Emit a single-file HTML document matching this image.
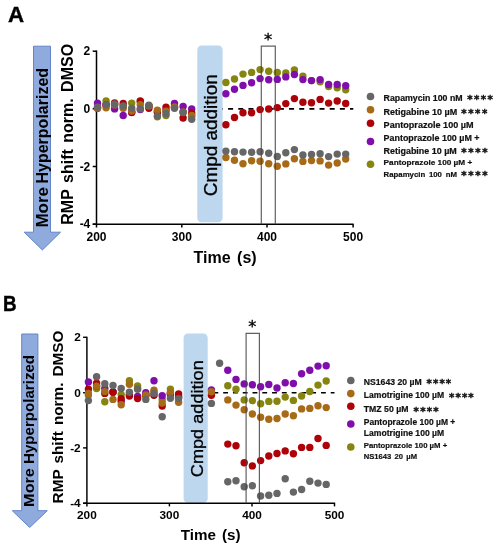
<!DOCTYPE html>
<html lang="en"><head><meta charset="utf-8"><title>RMP shift figure</title>
<style>html,body{margin:0;padding:0;background:#fff;}svg{display:block;}</style></head><body>
<svg width="497" height="550" viewBox="0 0 497 550">
<rect width="497" height="550" fill="#fff"/>
<path d="M33.5 46.2 H50.5 V232.2 H60.5 L42.4 250 L24.2 232.2 H33.5 Z" fill="#8faadc" stroke="#6485c7" stroke-width="1"/>
<text transform="translate(47.8 227.6) rotate(-90)" font-family="'Liberation Sans', sans-serif" font-weight="bold" font-size="16" textLength="40.7" lengthAdjust="spacingAndGlyphs" fill="#000">More</text>
<text transform="translate(47.8 183.5) rotate(-90)" font-family="'Liberation Sans', sans-serif" font-weight="bold" font-size="16" fill="#000">Hyperpolarized</text>
<text transform="translate(72.6 224.7) rotate(-90)" font-family="'Liberation Sans', sans-serif" font-weight="bold" font-size="16" style="word-spacing:2px" fill="#000">RMP shift norm. DMSO</text>
<line x1="217.94" y1="108.8" x2="353.3" y2="108.8" stroke="#000" stroke-width="1.7" stroke-dasharray="5 5.16"/>
<rect x="197.3" y="45.5" width="25.299999999999983" height="176.8" rx="4.3" fill="#bdd7ee"/>
<text transform="translate(216.6 196.2) rotate(-90)" font-family="'Liberation Sans', sans-serif" font-size="17.8" textLength="122" lengthAdjust="spacingAndGlyphs" fill="#000" stroke="#000" stroke-width="0.3">Cmpd addition</text>
<path d="M96.5 50.6 V227.39999999999998 M92.7 224.2 H353.70000000000005" stroke="#000" stroke-width="1.5" fill="none"/>
<line x1="92.7" y1="51.2" x2="96.5" y2="51.2" stroke="#000" stroke-width="1.5"/>
<line x1="92.7" y1="108.8" x2="96.5" y2="108.8" stroke="#000" stroke-width="1.5"/>
<line x1="92.7" y1="166.5" x2="96.5" y2="166.5" stroke="#000" stroke-width="1.5"/>
<line x1="92.7" y1="224.2" x2="96.5" y2="224.2" stroke="#000" stroke-width="1.5"/>
<line x1="181.8" y1="224.2" x2="181.8" y2="227.39999999999998" stroke="#000" stroke-width="1.5"/>
<line x1="267" y1="224.2" x2="267" y2="227.39999999999998" stroke="#000" stroke-width="1.5"/>
<line x1="353.1" y1="224.2" x2="353.1" y2="227.39999999999998" stroke="#000" stroke-width="1.5"/>
<circle cx="97.5" cy="107.5" r="3.7" fill="#868510"/>
<circle cx="106.1" cy="101" r="3.7" fill="#868510"/>
<circle cx="114.6" cy="105" r="3.7" fill="#868510"/>
<circle cx="123.2" cy="106" r="3.7" fill="#868510"/>
<circle cx="131.7" cy="103.1" r="3.7" fill="#868510"/>
<circle cx="140.3" cy="101" r="3.7" fill="#868510"/>
<circle cx="148.9" cy="106" r="3.7" fill="#868510"/>
<circle cx="157.4" cy="116.7" r="3.7" fill="#868510"/>
<circle cx="166.0" cy="115.5" r="3.7" fill="#868510"/>
<circle cx="174.5" cy="107" r="3.7" fill="#868510"/>
<circle cx="183.1" cy="112" r="3.7" fill="#868510"/>
<circle cx="191.7" cy="116" r="3.7" fill="#868510"/>
<circle cx="225.9" cy="82.5" r="3.7" fill="#868510"/>
<circle cx="234.5" cy="79" r="3.7" fill="#868510"/>
<circle cx="243.0" cy="74.1" r="3.7" fill="#868510"/>
<circle cx="251.6" cy="72.4" r="3.7" fill="#868510"/>
<circle cx="260.1" cy="69.6" r="3.7" fill="#868510"/>
<circle cx="268.7" cy="71.3" r="3.7" fill="#868510"/>
<circle cx="277.3" cy="72.4" r="3.7" fill="#868510"/>
<circle cx="285.8" cy="73" r="3.7" fill="#868510"/>
<circle cx="294.4" cy="70" r="3.7" fill="#868510"/>
<circle cx="302.9" cy="76.1" r="3.7" fill="#868510"/>
<circle cx="311.5" cy="80.6" r="3.7" fill="#868510"/>
<circle cx="320.1" cy="81.7" r="3.7" fill="#868510"/>
<circle cx="328.6" cy="86.6" r="3.7" fill="#868510"/>
<circle cx="337.2" cy="87.7" r="3.7" fill="#868510"/>
<circle cx="345.7" cy="89.8" r="3.7" fill="#868510"/>
<circle cx="97.5" cy="103.1" r="3.7" fill="#800eaa"/>
<circle cx="106.1" cy="105" r="3.7" fill="#800eaa"/>
<circle cx="114.6" cy="108.9" r="3.7" fill="#800eaa"/>
<circle cx="123.2" cy="115.5" r="3.7" fill="#800eaa"/>
<circle cx="131.7" cy="112.5" r="3.7" fill="#800eaa"/>
<circle cx="140.3" cy="109.5" r="3.7" fill="#800eaa"/>
<circle cx="148.9" cy="106" r="3.7" fill="#800eaa"/>
<circle cx="157.4" cy="112" r="3.7" fill="#800eaa"/>
<circle cx="166.0" cy="110" r="3.7" fill="#800eaa"/>
<circle cx="174.5" cy="103.5" r="3.7" fill="#800eaa"/>
<circle cx="183.1" cy="106.5" r="3.7" fill="#800eaa"/>
<circle cx="191.7" cy="108.9" r="3.7" fill="#800eaa"/>
<circle cx="225.9" cy="93.8" r="3.7" fill="#800eaa"/>
<circle cx="234.5" cy="89.3" r="3.7" fill="#800eaa"/>
<circle cx="243.0" cy="85.4" r="3.7" fill="#800eaa"/>
<circle cx="251.6" cy="82.8" r="3.7" fill="#800eaa"/>
<circle cx="260.1" cy="78.6" r="3.7" fill="#800eaa"/>
<circle cx="268.7" cy="79.7" r="3.7" fill="#800eaa"/>
<circle cx="277.3" cy="79.4" r="3.7" fill="#800eaa"/>
<circle cx="285.8" cy="76.9" r="3.7" fill="#800eaa"/>
<circle cx="294.4" cy="74.5" r="3.7" fill="#800eaa"/>
<circle cx="302.9" cy="79.6" r="3.7" fill="#800eaa"/>
<circle cx="311.5" cy="80.6" r="3.7" fill="#800eaa"/>
<circle cx="320.1" cy="79.6" r="3.7" fill="#800eaa"/>
<circle cx="328.6" cy="84.5" r="3.7" fill="#800eaa"/>
<circle cx="337.2" cy="84.5" r="3.7" fill="#800eaa"/>
<circle cx="345.7" cy="85.8" r="3.7" fill="#800eaa"/>
<circle cx="97.5" cy="108.3" r="3.7" fill="#ad0208"/>
<circle cx="106.1" cy="105" r="3.7" fill="#ad0208"/>
<circle cx="114.6" cy="103" r="3.7" fill="#ad0208"/>
<circle cx="123.2" cy="103.5" r="3.7" fill="#ad0208"/>
<circle cx="131.7" cy="112.3" r="3.7" fill="#ad0208"/>
<circle cx="140.3" cy="101.2" r="3.7" fill="#ad0208"/>
<circle cx="148.9" cy="108.3" r="3.7" fill="#ad0208"/>
<circle cx="157.4" cy="112" r="3.7" fill="#ad0208"/>
<circle cx="166.0" cy="107.1" r="3.7" fill="#ad0208"/>
<circle cx="174.5" cy="107" r="3.7" fill="#ad0208"/>
<circle cx="183.1" cy="118" r="3.7" fill="#ad0208"/>
<circle cx="191.7" cy="113.1" r="3.7" fill="#ad0208"/>
<circle cx="225.9" cy="124.8" r="3.7" fill="#ad0208"/>
<circle cx="234.5" cy="117.5" r="3.7" fill="#ad0208"/>
<circle cx="243.0" cy="112.8" r="3.7" fill="#ad0208"/>
<circle cx="251.6" cy="112.8" r="3.7" fill="#ad0208"/>
<circle cx="260.1" cy="109.6" r="3.7" fill="#ad0208"/>
<circle cx="268.7" cy="109" r="3.7" fill="#ad0208"/>
<circle cx="277.3" cy="107.6" r="3.7" fill="#ad0208"/>
<circle cx="285.8" cy="103.6" r="3.7" fill="#ad0208"/>
<circle cx="294.4" cy="98.6" r="3.7" fill="#ad0208"/>
<circle cx="302.9" cy="102.2" r="3.7" fill="#ad0208"/>
<circle cx="311.5" cy="102.7" r="3.7" fill="#ad0208"/>
<circle cx="320.1" cy="99.4" r="3.7" fill="#ad0208"/>
<circle cx="328.6" cy="103.1" r="3.7" fill="#ad0208"/>
<circle cx="337.2" cy="101" r="3.7" fill="#ad0208"/>
<circle cx="345.7" cy="103.5" r="3.7" fill="#ad0208"/>
<circle cx="97.5" cy="108" r="3.7" fill="#a76a17"/>
<circle cx="106.1" cy="107.7" r="3.7" fill="#a76a17"/>
<circle cx="114.6" cy="105" r="3.7" fill="#a76a17"/>
<circle cx="123.2" cy="108.3" r="3.7" fill="#a76a17"/>
<circle cx="131.7" cy="111" r="3.7" fill="#a76a17"/>
<circle cx="140.3" cy="104.7" r="3.7" fill="#a76a17"/>
<circle cx="148.9" cy="106" r="3.7" fill="#a76a17"/>
<circle cx="157.4" cy="110.1" r="3.7" fill="#a76a17"/>
<circle cx="166.0" cy="111.3" r="3.7" fill="#a76a17"/>
<circle cx="174.5" cy="107" r="3.7" fill="#a76a17"/>
<circle cx="183.1" cy="112" r="3.7" fill="#a76a17"/>
<circle cx="191.7" cy="115.5" r="3.7" fill="#a76a17"/>
<circle cx="225.9" cy="157.5" r="3.7" fill="#a76a17"/>
<circle cx="234.5" cy="160.3" r="3.7" fill="#a76a17"/>
<circle cx="243.0" cy="163.8" r="3.7" fill="#a76a17"/>
<circle cx="251.6" cy="160.7" r="3.7" fill="#a76a17"/>
<circle cx="260.1" cy="161.3" r="3.7" fill="#a76a17"/>
<circle cx="268.7" cy="163.8" r="3.7" fill="#a76a17"/>
<circle cx="277.3" cy="166.3" r="3.7" fill="#a76a17"/>
<circle cx="285.8" cy="163.9" r="3.7" fill="#a76a17"/>
<circle cx="294.4" cy="158.7" r="3.7" fill="#a76a17"/>
<circle cx="302.9" cy="161.4" r="3.7" fill="#a76a17"/>
<circle cx="311.5" cy="160.6" r="3.7" fill="#a76a17"/>
<circle cx="320.1" cy="160.9" r="3.7" fill="#a76a17"/>
<circle cx="328.6" cy="165.1" r="3.7" fill="#a76a17"/>
<circle cx="337.2" cy="163" r="3.7" fill="#a76a17"/>
<circle cx="345.7" cy="159" r="3.7" fill="#a76a17"/>
<circle cx="97.5" cy="107.1" r="3.7" fill="#666666"/>
<circle cx="106.1" cy="104.7" r="3.7" fill="#666666"/>
<circle cx="114.6" cy="104" r="3.7" fill="#666666"/>
<circle cx="123.2" cy="105.9" r="3.7" fill="#666666"/>
<circle cx="131.7" cy="108.3" r="3.7" fill="#666666"/>
<circle cx="140.3" cy="108.9" r="3.7" fill="#666666"/>
<circle cx="148.9" cy="105.3" r="3.7" fill="#666666"/>
<circle cx="157.4" cy="116.1" r="3.7" fill="#666666"/>
<circle cx="166.0" cy="113.7" r="3.7" fill="#666666"/>
<circle cx="174.5" cy="108.3" r="3.7" fill="#666666"/>
<circle cx="183.1" cy="112.5" r="3.7" fill="#666666"/>
<circle cx="191.7" cy="119.2" r="3.7" fill="#666666"/>
<circle cx="225.9" cy="151.1" r="3.7" fill="#666666"/>
<circle cx="234.5" cy="151.8" r="3.7" fill="#666666"/>
<circle cx="243.0" cy="152.1" r="3.7" fill="#666666"/>
<circle cx="251.6" cy="152.3" r="3.7" fill="#666666"/>
<circle cx="260.1" cy="151.8" r="3.7" fill="#666666"/>
<circle cx="268.7" cy="153.2" r="3.7" fill="#666666"/>
<circle cx="277.3" cy="156.5" r="3.7" fill="#666666"/>
<circle cx="285.8" cy="152.7" r="3.7" fill="#666666"/>
<circle cx="294.4" cy="149.6" r="3.7" fill="#666666"/>
<circle cx="302.9" cy="154.9" r="3.7" fill="#666666"/>
<circle cx="311.5" cy="154.5" r="3.7" fill="#666666"/>
<circle cx="320.1" cy="153.8" r="3.7" fill="#666666"/>
<circle cx="328.6" cy="156.6" r="3.7" fill="#666666"/>
<circle cx="337.2" cy="154.1" r="3.7" fill="#666666"/>
<circle cx="345.7" cy="154.1" r="3.7" fill="#666666"/>
<text x="90.3" y="55.2" text-anchor="end" font-family="'Liberation Sans', sans-serif" font-weight="bold" font-size="12">2</text>
<text x="90.3" y="112.8" text-anchor="end" font-family="'Liberation Sans', sans-serif" font-weight="bold" font-size="12">0</text>
<text x="90.3" y="170.5" text-anchor="end" font-family="'Liberation Sans', sans-serif" font-weight="bold" font-size="12">-2</text>
<text x="90.3" y="228.2" text-anchor="end" font-family="'Liberation Sans', sans-serif" font-weight="bold" font-size="12">-4</text>
<text x="96.5" y="241.3" text-anchor="middle" font-family="'Liberation Sans', sans-serif" font-weight="bold" font-size="12">200</text>
<text x="181.8" y="241.3" text-anchor="middle" font-family="'Liberation Sans', sans-serif" font-weight="bold" font-size="12">300</text>
<text x="267" y="241.3" text-anchor="middle" font-family="'Liberation Sans', sans-serif" font-weight="bold" font-size="12">400</text>
<text x="353.1" y="241.3" text-anchor="middle" font-family="'Liberation Sans', sans-serif" font-weight="bold" font-size="12">500</text>
<text x="193.6" y="262.8" font-family="'Liberation Sans', sans-serif" font-weight="bold" font-size="16" style="word-spacing:2px">Time (s)</text>
<path d="M261.3 224.2 V46.1 H275.3 V224.2" fill="none" stroke="#454545" stroke-opacity="0.85" stroke-width="1.2"/>
<text x="268" y="44.5" text-anchor="middle" font-family="'DejaVu Sans', sans-serif" font-size="16.5" stroke="#000" stroke-width="0.35">*</text>
<text x="7.9" y="22.3" font-family="'Liberation Sans', sans-serif" font-weight="bold" font-size="22.3" stroke="#000" stroke-width="0.4">A</text>
<circle cx="370.5" cy="96.5" r="3.8" fill="#666666"/>
<circle cx="370.5" cy="109.8" r="3.8" fill="#a76a17"/>
<circle cx="370.5" cy="123.3" r="3.8" fill="#ad0208"/>
<circle cx="370.5" cy="141.5" r="3.8" fill="#800eaa"/>
<circle cx="370.5" cy="164.3" r="3.8" fill="#868510"/>
<text x="383.6" y="101.2" font-family="'Liberation Sans', sans-serif" font-weight="bold" font-size="8.5" textLength="79" lengthAdjust="spacingAndGlyphs" style="word-spacing:0px" fill="#111" stroke="#111" stroke-width="0.2">Rapamycin 100 nM</text>
<text x="467.2" y="102.7" font-family="'DejaVu Sans', sans-serif" font-weight="bold" font-size="10.2" textLength="25.6" lengthAdjust="spacing" fill="#111" stroke="#111" stroke-width="0.4">****</text>
<text x="383.6" y="115.1" font-family="'Liberation Sans', sans-serif" font-weight="bold" font-size="8.5" textLength="73.6" lengthAdjust="spacingAndGlyphs" style="word-spacing:0px" fill="#111" stroke="#111" stroke-width="0.2">Retigabine 10 µM</text>
<text x="461.2" y="116.6" font-family="'DejaVu Sans', sans-serif" font-weight="bold" font-size="10.2" textLength="26.2" lengthAdjust="spacing" fill="#111" stroke="#111" stroke-width="0.4">****</text>
<text x="383.6" y="128.2" font-family="'Liberation Sans', sans-serif" font-weight="bold" font-size="8.5" textLength="90" lengthAdjust="spacingAndGlyphs" style="word-spacing:0px" fill="#111" stroke="#111" stroke-width="0.2">Pantoprazole 100 µM</text>
<text x="383.6" y="141.2" font-family="'Liberation Sans', sans-serif" font-weight="bold" font-size="8.5" textLength="95.9" lengthAdjust="spacingAndGlyphs" style="word-spacing:0px" fill="#111" stroke="#111" stroke-width="0.2">Pantoprazole 100 µM +</text>
<text x="383.6" y="153.6" font-family="'Liberation Sans', sans-serif" font-weight="bold" font-size="8.5" textLength="73.2" lengthAdjust="spacingAndGlyphs" style="word-spacing:0px" fill="#111" stroke="#111" stroke-width="0.2">Retigabine 10 µM</text>
<text x="461.3" y="156.3" font-family="'DejaVu Sans', sans-serif" font-weight="bold" font-size="10.2" textLength="26.2" lengthAdjust="spacing" fill="#111" stroke="#111" stroke-width="0.4">****</text>
<text x="383.6" y="165.4" font-family="'Liberation Sans', sans-serif" font-weight="bold" font-size="8.0" textLength="88.7" lengthAdjust="spacingAndGlyphs" style="word-spacing:0px" fill="#111" stroke="#111" stroke-width="0.2">Pantoprazole 100 µM +</text>
<text x="383.6" y="176.5" font-family="'Liberation Sans', sans-serif" font-weight="bold" font-size="8.0" textLength="73.3" lengthAdjust="spacingAndGlyphs" style="word-spacing:1.6px" fill="#111" stroke="#111" stroke-width="0.2">Rapamycin 100 nM</text>
<text x="461.3" y="179.4" font-family="'DejaVu Sans', sans-serif" font-weight="bold" font-size="10.2" textLength="26.2" lengthAdjust="spacing" fill="#111" stroke="#111" stroke-width="0.4">****</text>
<path d="M21.7 334 H37.9 V510.7 H47.3 L29.7 527.5 L12.3 510.7 H21.7 Z" fill="#8faadc" stroke="#6485c7" stroke-width="1"/>
<text transform="translate(34.1 506.9) rotate(-90)" font-family="'Liberation Sans', sans-serif" font-weight="bold" font-size="15.3" textLength="38.8" lengthAdjust="spacingAndGlyphs" fill="#000">More</text>
<text transform="translate(34.1 464) rotate(-90)" font-family="'Liberation Sans', sans-serif" font-weight="bold" font-size="15.1" fill="#000">Hyperpolarized</text>
<text transform="translate(62.7 503.4) rotate(-90)" font-family="'Liberation Sans', sans-serif" font-weight="bold" font-size="15.3" style="word-spacing:1.9px" fill="#000">RMP shift norm. DMSO</text>
<line x1="213.4" y1="392.7" x2="334.5" y2="392.7" stroke="#000" stroke-width="1.65" stroke-dasharray="4.85 4.93"/>
<rect x="183.6" y="333.4" width="24.099999999999994" height="169.40000000000003" rx="4.3" fill="#bdd7ee"/>
<text transform="translate(202.5 477.2) rotate(-90)" font-family="'Liberation Sans', sans-serif" font-size="17.4" textLength="117" lengthAdjust="spacingAndGlyphs" fill="#000" stroke="#000" stroke-width="0.3">Cmpd addition</text>
<path d="M86.9 336.7 V506.4 M83.10000000000001 503.2 H335.1" stroke="#000" stroke-width="1.45" fill="none"/>
<line x1="83.10000000000001" y1="337.3" x2="86.9" y2="337.3" stroke="#000" stroke-width="1.45"/>
<line x1="83.10000000000001" y1="392.7" x2="86.9" y2="392.7" stroke="#000" stroke-width="1.45"/>
<line x1="83.10000000000001" y1="447.9" x2="86.9" y2="447.9" stroke="#000" stroke-width="1.45"/>
<line x1="83.10000000000001" y1="503.2" x2="86.9" y2="503.2" stroke="#000" stroke-width="1.45"/>
<line x1="169.4" y1="503.2" x2="169.4" y2="506.4" stroke="#000" stroke-width="1.45"/>
<line x1="252.0" y1="503.2" x2="252.0" y2="506.4" stroke="#000" stroke-width="1.45"/>
<line x1="334.5" y1="503.2" x2="334.5" y2="506.4" stroke="#000" stroke-width="1.45"/>
<circle cx="88.4" cy="395.2" r="3.7" fill="#868510"/>
<circle cx="96.6" cy="388.5" r="3.7" fill="#868510"/>
<circle cx="104.8" cy="401.8" r="3.7" fill="#868510"/>
<circle cx="113.0" cy="392" r="3.7" fill="#868510"/>
<circle cx="121.2" cy="394.6" r="3.7" fill="#868510"/>
<circle cx="129.4" cy="380.7" r="3.7" fill="#868510"/>
<circle cx="137.6" cy="386" r="3.7" fill="#868510"/>
<circle cx="145.8" cy="395" r="3.7" fill="#868510"/>
<circle cx="154.0" cy="392" r="3.7" fill="#868510"/>
<circle cx="162.2" cy="399.4" r="3.7" fill="#868510"/>
<circle cx="170.4" cy="389.1" r="3.7" fill="#868510"/>
<circle cx="178.6" cy="397" r="3.7" fill="#868510"/>
<circle cx="227.8" cy="385.8" r="3.7" fill="#868510"/>
<circle cx="236.0" cy="389.3" r="3.7" fill="#868510"/>
<circle cx="244.2" cy="399.9" r="3.7" fill="#868510"/>
<circle cx="252.4" cy="400.6" r="3.7" fill="#868510"/>
<circle cx="260.6" cy="403.7" r="3.7" fill="#868510"/>
<circle cx="268.8" cy="401.4" r="3.7" fill="#868510"/>
<circle cx="277.0" cy="401.2" r="3.7" fill="#868510"/>
<circle cx="285.2" cy="397.1" r="3.7" fill="#868510"/>
<circle cx="293.4" cy="400.4" r="3.7" fill="#868510"/>
<circle cx="301.6" cy="396" r="3.7" fill="#868510"/>
<circle cx="309.8" cy="391.5" r="3.7" fill="#868510"/>
<circle cx="318.0" cy="385.1" r="3.7" fill="#868510"/>
<circle cx="326.2" cy="381" r="3.7" fill="#868510"/>
<circle cx="88.4" cy="381.9" r="3.7" fill="#800eaa"/>
<circle cx="96.6" cy="386" r="3.7" fill="#800eaa"/>
<circle cx="104.8" cy="388.5" r="3.7" fill="#800eaa"/>
<circle cx="113.0" cy="392" r="3.7" fill="#800eaa"/>
<circle cx="121.2" cy="401.2" r="3.7" fill="#800eaa"/>
<circle cx="129.4" cy="394.6" r="3.7" fill="#800eaa"/>
<circle cx="137.6" cy="396.5" r="3.7" fill="#800eaa"/>
<circle cx="145.8" cy="392.8" r="3.7" fill="#800eaa"/>
<circle cx="154.0" cy="380.7" r="3.7" fill="#800eaa"/>
<circle cx="162.2" cy="395.8" r="3.7" fill="#800eaa"/>
<circle cx="170.4" cy="394" r="3.7" fill="#800eaa"/>
<circle cx="178.6" cy="397" r="3.7" fill="#800eaa"/>
<circle cx="211.4" cy="390" r="3.7" fill="#800eaa"/>
<circle cx="227.8" cy="370.3" r="3.7" fill="#800eaa"/>
<circle cx="236.0" cy="379.4" r="3.7" fill="#800eaa"/>
<circle cx="244.2" cy="383.9" r="3.7" fill="#800eaa"/>
<circle cx="252.4" cy="384.8" r="3.7" fill="#800eaa"/>
<circle cx="260.6" cy="386.8" r="3.7" fill="#800eaa"/>
<circle cx="268.8" cy="384.5" r="3.7" fill="#800eaa"/>
<circle cx="277.0" cy="388" r="3.7" fill="#800eaa"/>
<circle cx="285.2" cy="382.7" r="3.7" fill="#800eaa"/>
<circle cx="293.4" cy="383.5" r="3.7" fill="#800eaa"/>
<circle cx="301.6" cy="373.8" r="3.7" fill="#800eaa"/>
<circle cx="309.8" cy="370.3" r="3.7" fill="#800eaa"/>
<circle cx="318.0" cy="366.1" r="3.7" fill="#800eaa"/>
<circle cx="326.2" cy="365.8" r="3.7" fill="#800eaa"/>
<circle cx="88.4" cy="389.1" r="3.7" fill="#ad0208"/>
<circle cx="96.6" cy="383.1" r="3.7" fill="#ad0208"/>
<circle cx="104.8" cy="393.4" r="3.7" fill="#ad0208"/>
<circle cx="113.0" cy="392.2" r="3.7" fill="#ad0208"/>
<circle cx="121.2" cy="398.8" r="3.7" fill="#ad0208"/>
<circle cx="129.4" cy="396" r="3.7" fill="#ad0208"/>
<circle cx="137.6" cy="398.6" r="3.7" fill="#ad0208"/>
<circle cx="145.8" cy="395.4" r="3.7" fill="#ad0208"/>
<circle cx="154.0" cy="395.2" r="3.7" fill="#ad0208"/>
<circle cx="162.2" cy="406" r="3.7" fill="#ad0208"/>
<circle cx="170.4" cy="394" r="3.7" fill="#ad0208"/>
<circle cx="178.6" cy="394" r="3.7" fill="#ad0208"/>
<circle cx="211.4" cy="395.2" r="3.7" fill="#ad0208"/>
<circle cx="227.8" cy="444.1" r="3.7" fill="#ad0208"/>
<circle cx="236.0" cy="445.8" r="3.7" fill="#ad0208"/>
<circle cx="244.2" cy="462.7" r="3.7" fill="#ad0208"/>
<circle cx="252.4" cy="465.9" r="3.7" fill="#ad0208"/>
<circle cx="260.6" cy="460.6" r="3.7" fill="#ad0208"/>
<circle cx="268.8" cy="456" r="3.7" fill="#ad0208"/>
<circle cx="277.0" cy="453.5" r="3.7" fill="#ad0208"/>
<circle cx="285.2" cy="450.9" r="3.7" fill="#ad0208"/>
<circle cx="293.4" cy="453.8" r="3.7" fill="#ad0208"/>
<circle cx="301.6" cy="447.4" r="3.7" fill="#ad0208"/>
<circle cx="309.8" cy="447.4" r="3.7" fill="#ad0208"/>
<circle cx="318.0" cy="438.5" r="3.7" fill="#ad0208"/>
<circle cx="326.2" cy="445.4" r="3.7" fill="#ad0208"/>
<circle cx="88.4" cy="393.4" r="3.7" fill="#a76a17"/>
<circle cx="96.6" cy="386.1" r="3.7" fill="#a76a17"/>
<circle cx="104.8" cy="391.6" r="3.7" fill="#a76a17"/>
<circle cx="113.0" cy="399.4" r="3.7" fill="#a76a17"/>
<circle cx="121.2" cy="404.8" r="3.7" fill="#a76a17"/>
<circle cx="129.4" cy="384.3" r="3.7" fill="#a76a17"/>
<circle cx="137.6" cy="389" r="3.7" fill="#a76a17"/>
<circle cx="145.8" cy="394.9" r="3.7" fill="#a76a17"/>
<circle cx="154.0" cy="390.2" r="3.7" fill="#a76a17"/>
<circle cx="162.2" cy="403" r="3.7" fill="#a76a17"/>
<circle cx="170.4" cy="392.4" r="3.7" fill="#a76a17"/>
<circle cx="178.6" cy="402.3" r="3.7" fill="#a76a17"/>
<circle cx="211.4" cy="391.8" r="3.7" fill="#a76a17"/>
<circle cx="227.8" cy="399.9" r="3.7" fill="#a76a17"/>
<circle cx="236.0" cy="405.1" r="3.7" fill="#a76a17"/>
<circle cx="244.2" cy="409.7" r="3.7" fill="#a76a17"/>
<circle cx="252.4" cy="414" r="3.7" fill="#a76a17"/>
<circle cx="260.6" cy="417.3" r="3.7" fill="#a76a17"/>
<circle cx="268.8" cy="419.2" r="3.7" fill="#a76a17"/>
<circle cx="277.0" cy="418.5" r="3.7" fill="#a76a17"/>
<circle cx="285.2" cy="414" r="3.7" fill="#a76a17"/>
<circle cx="293.4" cy="415.7" r="3.7" fill="#a76a17"/>
<circle cx="301.6" cy="408.9" r="3.7" fill="#a76a17"/>
<circle cx="309.8" cy="408.4" r="3.7" fill="#a76a17"/>
<circle cx="318.0" cy="405.7" r="3.7" fill="#a76a17"/>
<circle cx="326.2" cy="407.6" r="3.7" fill="#a76a17"/>
<circle cx="88.4" cy="400.6" r="3.7" fill="#666666"/>
<circle cx="96.6" cy="376.8" r="3.7" fill="#666666"/>
<circle cx="104.8" cy="383.7" r="3.7" fill="#666666"/>
<circle cx="113.0" cy="385.5" r="3.7" fill="#666666"/>
<circle cx="121.2" cy="388.5" r="3.7" fill="#666666"/>
<circle cx="129.4" cy="392.2" r="3.7" fill="#666666"/>
<circle cx="137.6" cy="389" r="3.7" fill="#666666"/>
<circle cx="145.8" cy="399.4" r="3.7" fill="#666666"/>
<circle cx="154.0" cy="393.4" r="3.7" fill="#666666"/>
<circle cx="162.2" cy="416.7" r="3.7" fill="#666666"/>
<circle cx="170.4" cy="398.3" r="3.7" fill="#666666"/>
<circle cx="178.6" cy="398.6" r="3.7" fill="#666666"/>
<circle cx="211.4" cy="403.4" r="3.7" fill="#666666"/>
<circle cx="219.6" cy="363.2" r="3.7" fill="#666666"/>
<circle cx="227.8" cy="481.7" r="3.7" fill="#666666"/>
<circle cx="236.0" cy="480.8" r="3.7" fill="#666666"/>
<circle cx="244.2" cy="486.8" r="3.7" fill="#666666"/>
<circle cx="252.4" cy="485.7" r="3.7" fill="#666666"/>
<circle cx="260.6" cy="496" r="3.7" fill="#666666"/>
<circle cx="268.8" cy="495.3" r="3.7" fill="#666666"/>
<circle cx="277.0" cy="493.4" r="3.7" fill="#666666"/>
<circle cx="285.2" cy="478.8" r="3.7" fill="#666666"/>
<circle cx="293.4" cy="492.1" r="3.7" fill="#666666"/>
<circle cx="301.6" cy="489.5" r="3.7" fill="#666666"/>
<circle cx="309.8" cy="481.2" r="3.7" fill="#666666"/>
<circle cx="318.0" cy="483.1" r="3.7" fill="#666666"/>
<circle cx="326.2" cy="484.4" r="3.7" fill="#666666"/>
<text x="80.7" y="341.2" text-anchor="end" font-family="'Liberation Sans', sans-serif" font-weight="bold" font-size="11.8">2</text>
<text x="80.7" y="396.6" text-anchor="end" font-family="'Liberation Sans', sans-serif" font-weight="bold" font-size="11.8">0</text>
<text x="80.7" y="451.8" text-anchor="end" font-family="'Liberation Sans', sans-serif" font-weight="bold" font-size="11.8">-2</text>
<text x="80.7" y="507.1" text-anchor="end" font-family="'Liberation Sans', sans-serif" font-weight="bold" font-size="11.8">-4</text>
<text x="86.9" y="519.4" text-anchor="middle" font-family="'Liberation Sans', sans-serif" font-weight="bold" font-size="11.8">200</text>
<text x="169.4" y="519.4" text-anchor="middle" font-family="'Liberation Sans', sans-serif" font-weight="bold" font-size="11.8">300</text>
<text x="252.0" y="519.4" text-anchor="middle" font-family="'Liberation Sans', sans-serif" font-weight="bold" font-size="11.8">400</text>
<text x="334.5" y="519.4" text-anchor="middle" font-family="'Liberation Sans', sans-serif" font-weight="bold" font-size="11.8">500</text>
<text x="180.7" y="539.9" font-family="'Liberation Sans', sans-serif" font-weight="bold" font-size="15.2" style="word-spacing:1.9px">Time (s)</text>
<path d="M246.1 503.2 V333.3 H259.4 V503.2" fill="none" stroke="#454545" stroke-opacity="0.85" stroke-width="1.2"/>
<text x="252.4" y="332" text-anchor="middle" font-family="'DejaVu Sans', sans-serif" font-size="16.2" stroke="#000" stroke-width="0.35">*</text>
<text x="2.9" y="310.7" font-family="'Liberation Sans', sans-serif" font-weight="bold" font-size="21.3" stroke="#000" stroke-width="0.4" textLength="13.6" lengthAdjust="spacingAndGlyphs">B</text>
<circle cx="350.8" cy="380.5" r="3.8" fill="#666666"/>
<circle cx="350.8" cy="393.6" r="3.8" fill="#a76a17"/>
<circle cx="350.8" cy="406.3" r="3.8" fill="#ad0208"/>
<circle cx="350.8" cy="424" r="3.8" fill="#800eaa"/>
<circle cx="350.8" cy="447" r="3.8" fill="#868510"/>
<text x="363.8" y="384.6" font-family="'Liberation Sans', sans-serif" font-weight="bold" font-size="8.5" textLength="57.8" lengthAdjust="spacingAndGlyphs" style="word-spacing:0px" fill="#111" stroke="#111" stroke-width="0.2">NS1643 20 µM</text>
<text x="426.6" y="386.9" font-family="'DejaVu Sans', sans-serif" font-weight="bold" font-size="10.2" textLength="24.5" lengthAdjust="spacing" fill="#111" stroke="#111" stroke-width="0.4">****</text>
<text x="363.8" y="398.3" font-family="'Liberation Sans', sans-serif" font-weight="bold" font-size="8.5" textLength="80.3" lengthAdjust="spacingAndGlyphs" style="word-spacing:0px" fill="#111" stroke="#111" stroke-width="0.2">Lamotrigine 100 µM</text>
<text x="448.9" y="400.6" font-family="'DejaVu Sans', sans-serif" font-weight="bold" font-size="10.2" textLength="24.8" lengthAdjust="spacing" fill="#111" stroke="#111" stroke-width="0.4">****</text>
<text x="363.8" y="412.0" font-family="'Liberation Sans', sans-serif" font-weight="bold" font-size="8.5" textLength="44.6" lengthAdjust="spacingAndGlyphs" style="word-spacing:0px" fill="#111" stroke="#111" stroke-width="0.2">TMZ 50 µM</text>
<text x="413.6" y="414.7" font-family="'DejaVu Sans', sans-serif" font-weight="bold" font-size="10.2" textLength="25" lengthAdjust="spacing" fill="#111" stroke="#111" stroke-width="0.4">****</text>
<text x="363.8" y="424.5" font-family="'Liberation Sans', sans-serif" font-weight="bold" font-size="8.5" textLength="91.5" lengthAdjust="spacingAndGlyphs" style="word-spacing:0px" fill="#111" stroke="#111" stroke-width="0.2">Pantoprazole 100 µM +</text>
<text x="363.8" y="436.0" font-family="'Liberation Sans', sans-serif" font-weight="bold" font-size="8.5" textLength="80.4" lengthAdjust="spacingAndGlyphs" style="word-spacing:0px" fill="#111" stroke="#111" stroke-width="0.2">Lamotrigine 100 µM</text>
<text x="363.8" y="447.9" font-family="'Liberation Sans', sans-serif" font-weight="bold" font-size="8.0" textLength="83.4" lengthAdjust="spacingAndGlyphs" style="word-spacing:0px" fill="#111" stroke="#111" stroke-width="0.2">Pantoprazole 100 µM +</text>
<text x="363.8" y="459.2" font-family="'Liberation Sans', sans-serif" font-weight="bold" font-size="8.0" textLength="53.2" lengthAdjust="spacingAndGlyphs" style="word-spacing:1.2px" fill="#111" stroke="#111" stroke-width="0.2">NS1643  20 µM</text>
</svg></body></html>
